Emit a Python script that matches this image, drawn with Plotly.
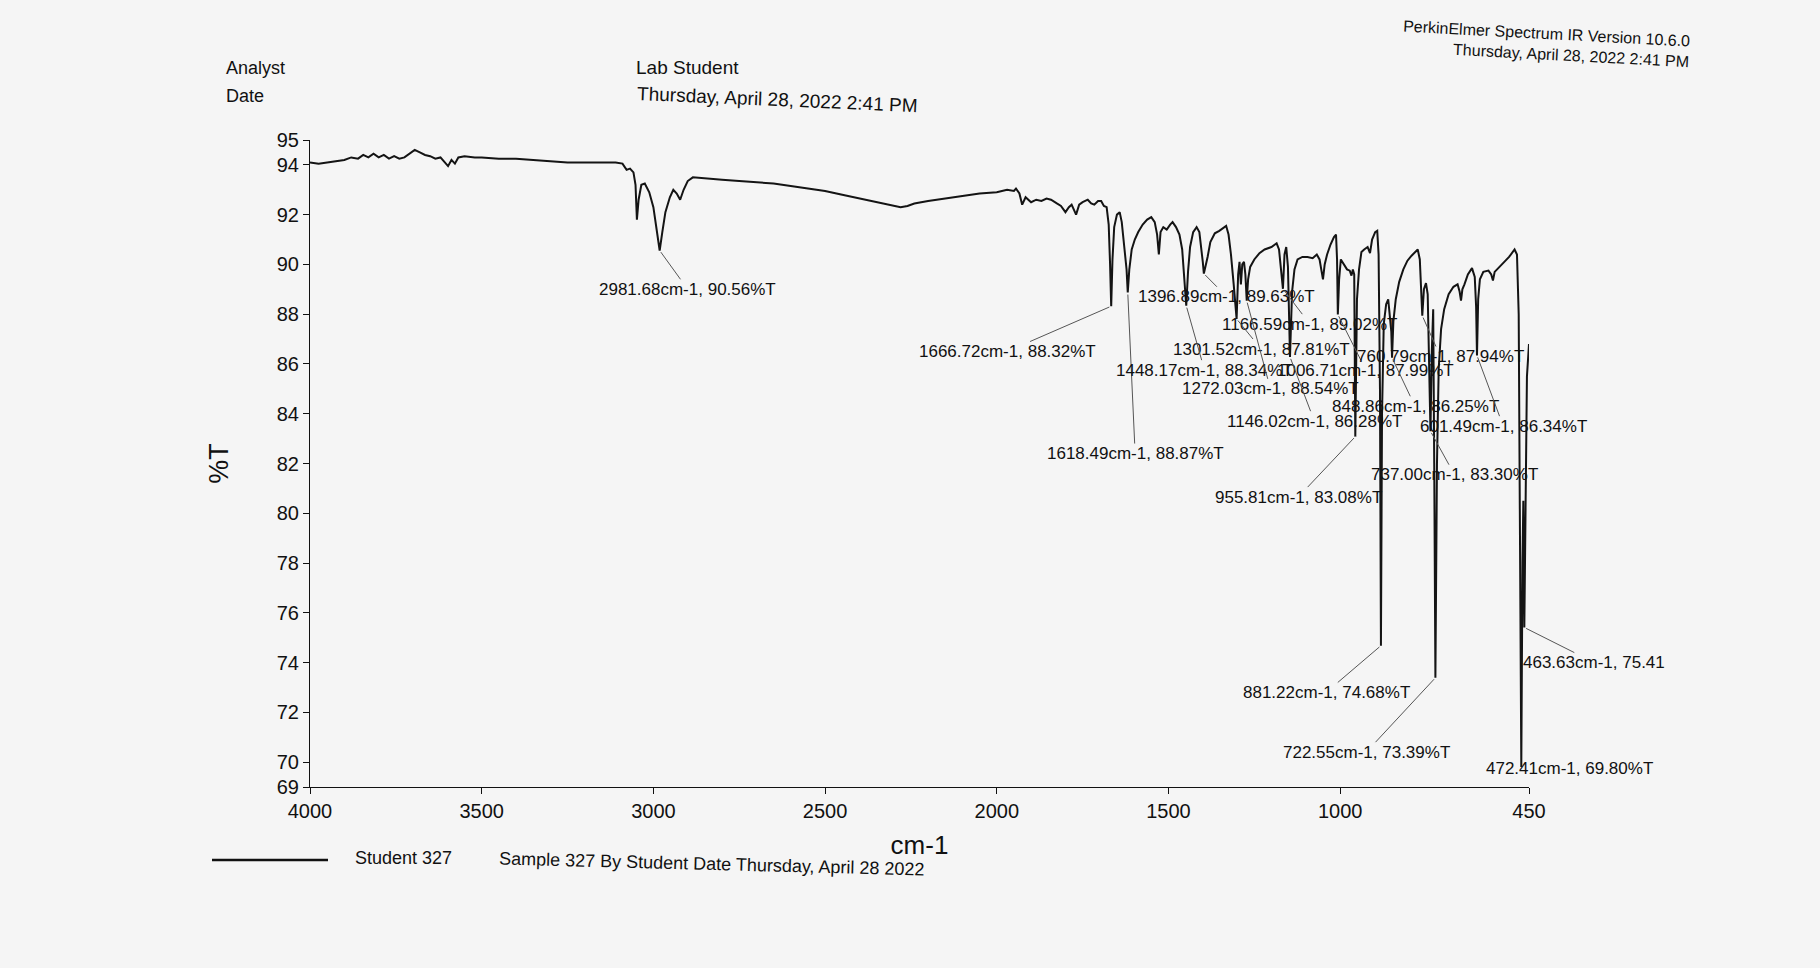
import plotly.graph_objects as go

# ---------------- data ----------------
WAVENUMBER = [
    4000, 3975, 3950, 3925, 3900, 3880, 3860, 3845, 3830, 3815, 3800, 3785, 3770, 3755, 3740,
    3725, 3710, 3695, 3680, 3665, 3650, 3635, 3620, 3608, 3598, 3588, 3578, 3568, 3550, 3520,
    3500, 3450, 3400, 3350, 3300, 3250, 3200, 3150, 3110, 3090, 3078, 3068, 3058, 3052, 3048,
    3043, 3035, 3025, 3012, 3000, 2990, 2981.68, 2974, 2965, 2952, 2942, 2932, 2922, 2912, 2900,
    2885, 2850, 2800, 2750, 2700, 2650, 2600, 2550, 2500, 2450, 2400, 2350, 2310, 2280, 2260,
    2240, 2200, 2150, 2100, 2050, 2000, 1970, 1950, 1944, 1934, 1926, 1916, 1900, 1885, 1870,
    1855, 1842, 1825, 1813, 1800, 1790, 1782, 1775, 1769, 1760, 1750, 1735, 1725, 1716, 1705,
    1696, 1688, 1680, 1674, 1670, 1666.72, 1663, 1658, 1650, 1642, 1636, 1628, 1622, 1618.49, 1614,
    1607, 1598, 1588, 1575, 1562, 1550, 1540, 1533, 1528, 1523, 1515, 1505, 1495, 1488, 1478,
    1468, 1460, 1454, 1448.17, 1443, 1437, 1428, 1418, 1410, 1404, 1400, 1396.89, 1392, 1386, 1378,
    1365, 1352, 1340, 1332, 1325, 1318, 1310, 1301.52, 1297, 1293, 1289, 1285, 1280, 1276, 1272.03,
    1268, 1262, 1250, 1235, 1220, 1200, 1185, 1178, 1172, 1166.59, 1162, 1157, 1152, 1146.02, 1140,
    1133, 1124, 1110, 1095, 1080, 1068, 1060, 1055, 1050, 1045, 1038, 1028, 1018, 1012, 1009,
    1006.71, 1003, 998, 990, 980, 972, 967, 963, 959, 955.81, 951, 945, 938, 930, 920,
    913, 907, 898, 892, 888, 884, 881.22, 878, 873, 866, 860, 855, 851, 848.86, 845,
    838, 828, 816, 804, 792, 782, 774, 768, 764, 760.79, 756, 750, 745, 741, 737.00,
    733, 729, 726, 722.55, 718, 713, 706, 697, 684, 670, 658, 652, 648, 644, 638,
    628, 616, 608, 604, 601.49, 598, 593, 583, 568, 560, 555, 550, 540, 525, 508,
    492, 485, 480, 476, 472.41, 469, 466.5, 463.63, 460, 456, 450,
]
TRANSMITTANCE = [
    94.1, 94.05, 94.1, 94.15, 94.2, 94.3, 94.25, 94.4, 94.3, 94.45, 94.3, 94.4, 94.25, 94.35, 94.25,
    94.3, 94.45, 94.6, 94.5, 94.4, 94.35, 94.25, 94.3, 94.1, 93.95, 94.2, 94.05, 94.3, 94.35, 94.3,
    94.3, 94.25, 94.25, 94.2, 94.15, 94.1, 94.1, 94.1, 94.1, 94.05, 93.8, 93.85, 93.7, 93.2, 91.8,
    92.6, 93.2, 93.25, 92.9, 92.3, 91.4, 90.56, 91.3, 92.1, 92.7, 93.0, 92.85, 92.6, 93.0, 93.35,
    93.5, 93.45, 93.4, 93.35, 93.3, 93.25, 93.15, 93.05, 92.95, 92.8, 92.65, 92.5, 92.4, 92.3, 92.35,
    92.45, 92.55, 92.65, 92.75, 92.85, 92.9, 93.0, 92.95, 93.05, 92.85, 92.4, 92.7, 92.5, 92.6, 92.55,
    92.65, 92.6, 92.45, 92.35, 92.1, 92.3, 92.4, 92.2, 92.0, 92.4, 92.5, 92.6, 92.45, 92.4, 92.55,
    92.55, 92.35, 92.3, 91.6, 90.0, 88.32, 90.2, 91.5, 92.0, 92.1, 91.7, 90.7, 89.8, 88.87, 89.8,
    90.6, 91.0, 91.3, 91.6, 91.8, 91.9, 91.7, 91.2, 90.4, 91.3, 91.5, 91.4, 91.6, 91.7, 91.5,
    91.2, 90.6, 89.6, 88.34, 89.7, 90.7, 91.3, 91.5, 91.3, 90.7, 90.1, 89.63, 89.9, 90.3, 90.9,
    91.25, 91.35, 91.45, 91.55, 91.2, 90.4, 89.2, 87.81, 89.6, 90.1, 89.2, 90.0, 90.1, 89.6, 88.54,
    89.4, 89.9, 90.2, 90.45, 90.6, 90.7, 90.85, 90.6, 89.9, 89.02, 90.4, 90.7, 89.9, 86.28, 88.9,
    89.8, 90.2, 90.3, 90.3, 90.25, 90.4, 90.2, 89.8, 89.4, 90.0, 90.4, 90.8, 91.1, 91.2, 90.2,
    87.99, 89.4, 90.2, 90.0, 89.8, 89.75, 89.55, 89.8, 89.6, 83.08, 88.6, 89.8, 90.5, 90.6, 90.7,
    90.45, 91.0, 91.3, 91.35, 90.4, 85.0, 74.68, 84.0, 87.6, 88.4, 88.6, 88.0, 87.3, 86.25, 87.7,
    88.6, 89.3, 89.8, 90.15, 90.35, 90.5, 90.6, 90.2, 89.0, 87.94, 89.0, 89.25, 88.8, 86.5, 83.30,
    86.5, 88.2, 82.0, 73.39, 82.0, 85.8, 87.4, 88.2, 88.8, 89.1, 89.2, 88.9, 88.55, 89.0, 89.2,
    89.6, 89.85, 89.5, 88.3, 86.34, 88.6, 89.4, 89.7, 89.75, 89.6, 89.35, 89.7, 89.85, 90.05, 90.3,
    90.6, 90.4, 88.0, 80.0, 69.80, 78.0, 80.5, 75.41, 82.0, 85.5, 86.8,
]

# labelled peaks (tip) and the text printed next to each
PEAK_WN = [2981.68, 1666.72, 1618.49, 1396.89, 1166.59, 1301.52, 1448.17, 1006.71, 1272.03,
           760.79, 848.86, 1146.02, 601.49, 737.00, 955.81, 463.63, 881.22, 722.55, 472.41]
PEAK_T = [90.56, 88.32, 88.87, 89.63, 89.02, 87.81, 88.34, 87.99, 88.54,
          87.94, 86.25, 86.28, 86.34, 83.30, 83.08, 75.41, 74.68, 73.39, 69.80]
PEAK_TEXT = [
    "2981.68cm-1, 90.56%T", "1666.72cm-1, 88.32%T", "1618.49cm-1, 88.87%T",
    "1396.89cm-1, 89.63%T", "1166.59cm-1, 89.02%T", "1301.52cm-1, 87.81%T",
    "1448.17cm-1, 88.34%T", "1006.71cm-1, 87.99%T", "1272.03cm-1, 88.54%T",
    "760.79cm-1, 87.94%T", "848.86cm-1, 86.25%T", "1146.02cm-1, 86.28%T",
    "601.49cm-1, 86.34%T", "737.00cm-1, 83.30%T", "955.81cm-1, 83.08%T",
    "463.63cm-1, 75.41", "881.22cm-1, 74.68%T", "722.55cm-1, 73.39%T",
    "472.41cm-1, 69.80%T",
]
# where each label's text sits (axis units)
LABEL_WN = [2900, 1970, 1597, 1330, 1088, 1230, 1395, 925, 1203,
            708, 782, 1075, 525, 667, 1122, 260, 1041, 924, 333]
LABEL_T = [89.0, 86.5, 82.4, 88.7, 87.6, 86.6, 85.75, 85.75, 85.0,
           86.3, 84.3, 83.7, 83.5, 81.55, 80.65, 74.0, 72.8, 70.4, 69.74]

X_TICKS = [4000, 3500, 3000, 2500, 2000, 1500, 1000, 450]
Y_TICKS = [69, 70, 72, 74, 76, 78, 80, 82, 84, 86, 88, 90, 92, 94, 95]

# ---------------- layout helpers ----------------
W, H = 1820, 968
ML, MR, MT, MB = 310, 291, 140, 181
FONT = "Liberation Sans, Arial, sans-serif"
BG = "#f5f5f5"


def px(x):
    return (x - ML) / (W - ML - MR)


def py(y):
    return (H - MB - y) / (H - MT - MB)


fig = go.Figure()
fig.add_trace(go.Scatter(
    x=WAVENUMBER, y=TRANSMITTANCE, mode="lines",
    line=dict(color="#141414", width=2),
    name="Student 327", showlegend=False, hoverinfo="x+y",
))

annotations = []
for wn, t, txt, lx, ly in zip(PEAK_WN, PEAK_T, PEAK_TEXT, LABEL_WN, LABEL_T):
    annotations.append(dict(
        x=wn, y=t, xref="x", yref="y", ax=lx, ay=ly, axref="x", ayref="y",
        text=txt, showarrow=True, arrowhead=0, arrowwidth=1, arrowcolor="#555555",
        standoff=2, borderpad=0, font=dict(family=FONT, size=17, color="#111111"),
    ))


def note(text, x, y, size, anchor="left", angle=0):
    annotations.append(dict(
        text=text, x=px(x), y=py(y), xref="paper", yref="paper", showarrow=False,
        xanchor=anchor, yanchor="middle", textangle=angle,
        font=dict(family=FONT, size=size, color="#111111"),
    ))


note("Analyst", 224, 68, 18)
note("Date", 224, 96, 18)
note("Lab Student", 634, 67, 19)
note("Thursday, April 28, 2022 2:41 PM", 777, 100, 19, anchor="center", angle=2.5)
note("PerkinElmer Spectrum IR Version 10.6.0", 1546, 33, 16, anchor="center", angle=3)
note("Thursday, April 28, 2022 2:41 PM", 1571, 55, 16, anchor="center", angle=3)
note("Student 327", 353, 858, 18)
note("Sample 327 By Student Date Thursday, April 28 2022", 712, 864, 18, anchor="center", angle=1.5)

shapes = [dict(type="line", xref="paper", yref="paper",
               x0=px(212), x1=px(328), y0=py(860), y1=py(860),
               line=dict(color="#111111", width=2.5))]

fig.update_layout(
    width=W, height=H, autosize=False,
    margin=dict(l=ML, r=MR, t=MT, b=MB, autoexpand=False),
    paper_bgcolor=BG, plot_bgcolor=BG,
    font=dict(family=FONT, color="#111111"),
    annotations=annotations, shapes=shapes,
    xaxis=dict(
        range=[4000, 450], tickvals=X_TICKS, ticktext=[str(v) for v in X_TICKS],
        showline=True, linecolor="#111111", linewidth=1.2, ticks="outside", ticklen=6,
        tickcolor="#111111", showgrid=False, zeroline=False,
        tickfont=dict(family=FONT, size=20),
        title=dict(text="cm-1", font=dict(family=FONT, size=26), standoff=14),
    ),
    yaxis=dict(
        range=[69, 95], tickvals=Y_TICKS,
        showline=True, linecolor="#111111", linewidth=1.2, ticks="outside", ticklen=6,
        tickcolor="#111111", showgrid=False, zeroline=False,
        tickfont=dict(family=FONT, size=20),
        title=dict(text="%T", font=dict(family=FONT, size=27), standoff=40),
    ),
)

fig.write_html("out.html")
